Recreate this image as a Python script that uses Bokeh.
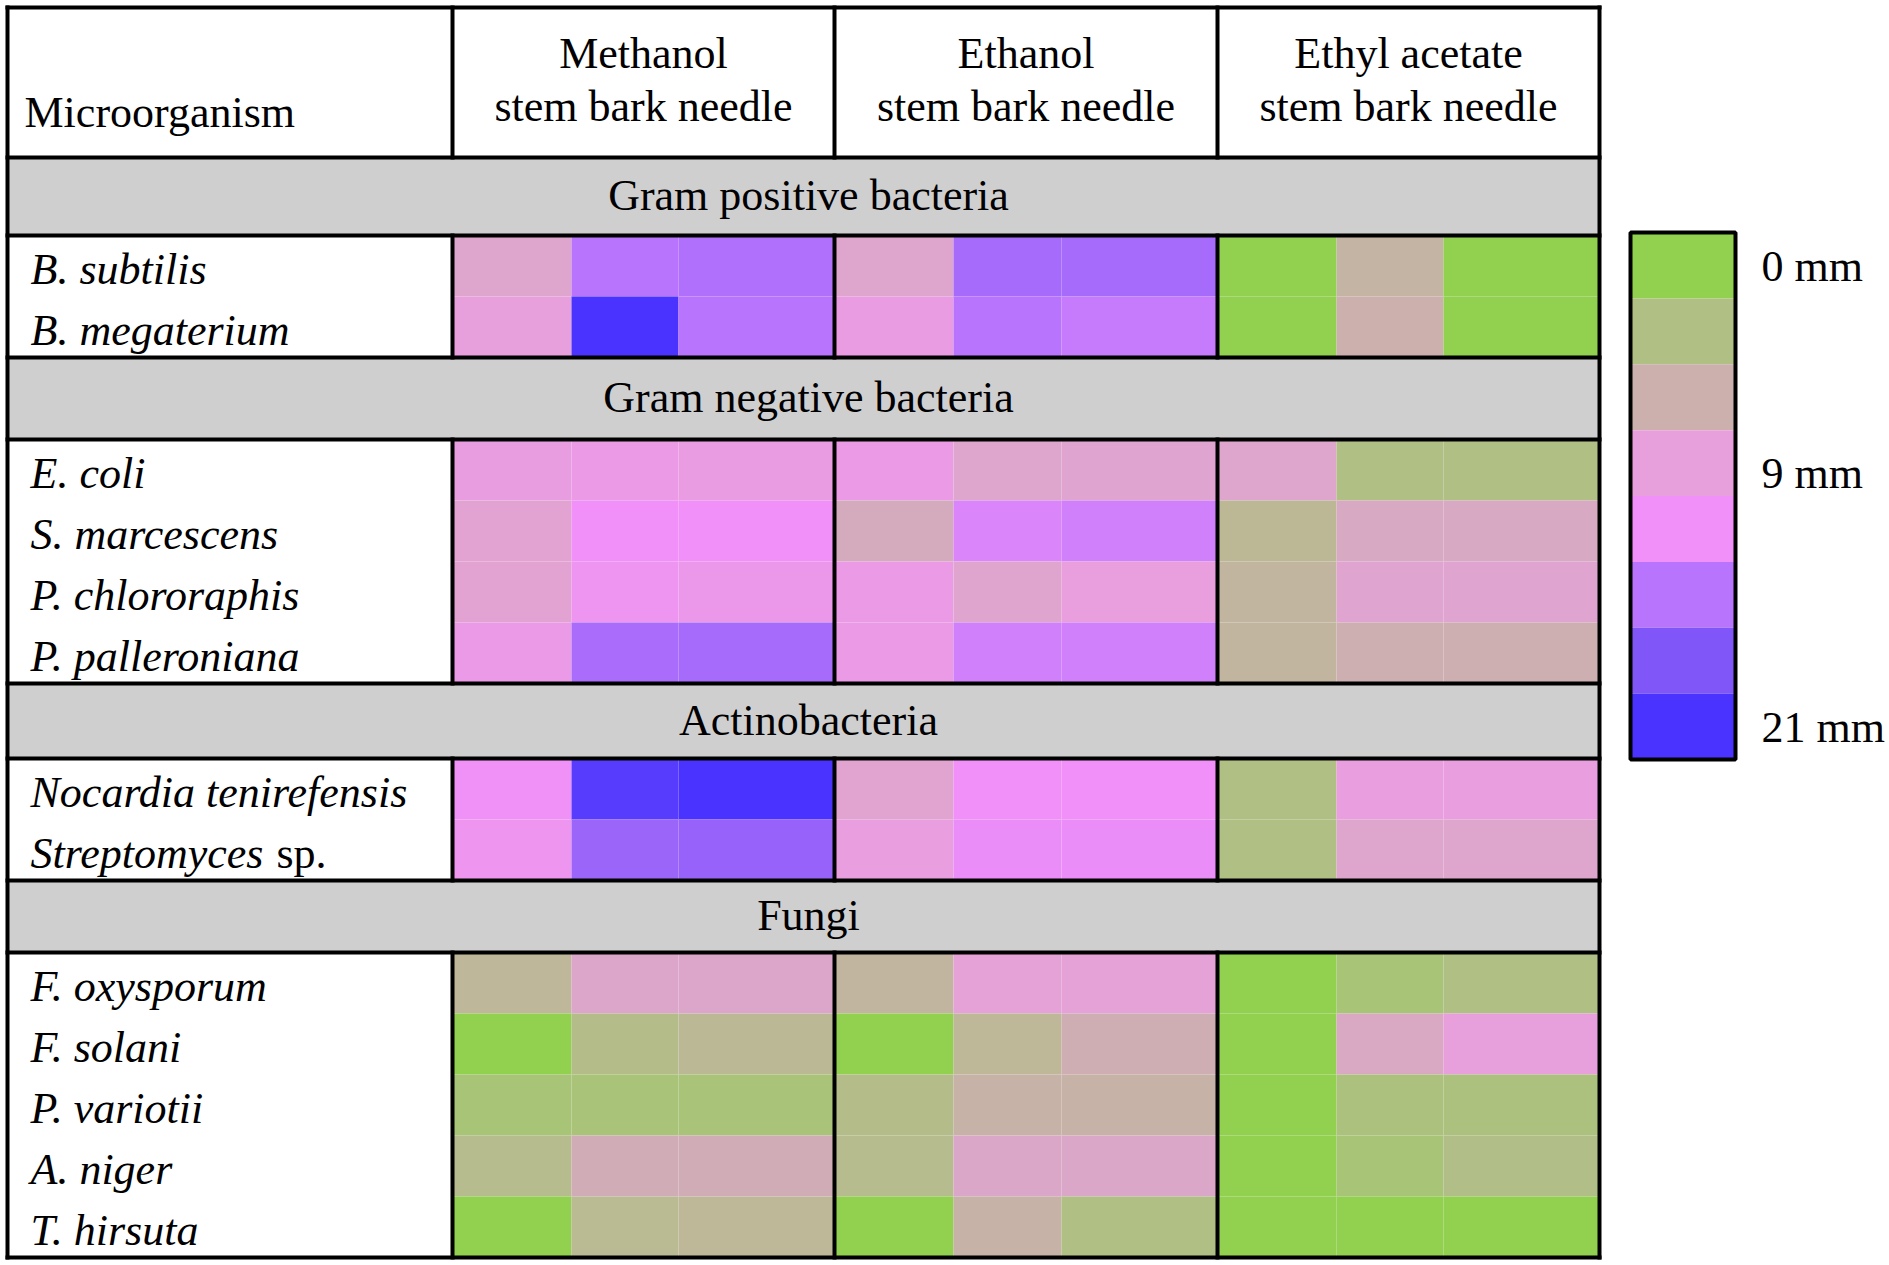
import numpy as np
from bokeh.plotting import figure
from bokeh.models import ColumnDataSource, LinearColorMapper, Range1d
from bokeh.transform import transform
from bokeh.core.properties import value
from bokeh.embed import file_html
from bokeh.resources import INLINE

# ---------------- data ----------------
groups = ["Gram positive bacteria", "Gram negative bacteria", "Actinobacteria", "Fungi"]
group_sizes = [2, 4, 2, 5]
organisms = ["B. subtilis", "B. megaterium",
             "E. coli", "S. marcescens", "P. chlororaphis", "P. palleroniana",
             "Nocardia tenirefensis", "Streptomyces",
             "F. oxysporum", "F. solani", "P. variotii", "A. niger", "T. hirsuta"]
organism_suffix = ["", "", "", "", "", "", "", "sp.", "", "", "", "", ""]
solvents = ["Methanol", "Ethanol", "Ethyl acetate"]
parts_label = "stem bark needle"

# inhibition zone (mm), one value per organism (same order as above)
methanol_stem   = [8.0, 9.0, 9.5, 8.4, 8.4, 10.2, 11.8, 11.0, 4.6, 0.0, 2.2, 3.7, 0.0]
methanol_bark   = [15.0, 21.0, 10.0, 12.0, 11.2, 15.8, 20.2, 16.5, 7.8, 3.4, 2.3, 6.5, 4.1]
methanol_needle = [15.4, 15.0, 9.8, 12.0, 10.5, 15.9, 21.0, 16.8, 7.8, 4.2, 2.3, 6.5, 4.5]
ethanol_stem    = [8.0, 9.8, 10.0, 6.9, 10.0, 10.0, 8.3, 9.3, 5.0, 0.0, 3.4, 3.7, 0.0]
ethanol_bark    = [15.9, 15.0, 8.0, 13.2, 8.1, 13.7, 12.0, 12.3, 8.6, 4.5, 5.6, 7.7, 5.5]
ethanol_needle  = [15.9, 14.3, 8.2, 13.7, 9.2, 13.7, 12.0, 12.3, 8.6, 6.3, 5.6, 7.7, 3.0]
ethyl_stem      = [0.0, 0.0, 8.0, 4.3, 5.0, 5.0, 3.0, 3.0, 0.0, 0.0, 0.0, 0.0, 0.0]
ethyl_bark      = [5.2, 6.0, 3.0, 7.3, 8.2, 6.2, 9.3, 8.0, 2.2, 7.4, 2.6, 2.2, 0.0]
ethyl_needle    = [0.0, 0.0, 3.0, 7.3, 8.2, 6.2, 9.3, 8.0, 3.0, 9.0, 2.6, 3.2, 0.0]
columns = [methanol_stem, methanol_bark, methanol_needle,
           ethanol_stem, ethanol_bark, ethanol_needle,
           ethyl_stem, ethyl_bark, ethyl_needle]

legend_steps = [0, 3, 6, 9, 12, 15, 18, 21]
legend_ticks = [0, 9, 21]
legend_tick_labels = ["0 mm", "9 mm", "21 mm"]

# ---------------- colour scale ----------------
anchor_vals = [0, 3, 6, 9, 12, 15, 18, 21]
anchor_cols = ["#92D050", "#B0BF84", "#CBB0AE", "#E8A0DC",
               "#F090F8", "#B874FC", "#8056F8", "#4A33FF"]

def hex2rgb(h):
    h = h.lstrip("#")
    return [int(h[i:i + 2], 16) for i in (0, 2, 4)]

rgb = np.array([hex2rgb(c) for c in anchor_cols], dtype=float)
grid = np.linspace(0, 21, 211)
palette = []
for g in grid:
    r = np.interp(g, anchor_vals, rgb[:, 0])
    gg = np.interp(g, anchor_vals, rgb[:, 1])
    b = np.interp(g, anchor_vals, rgb[:, 2])
    palette.append("#%02x%02x%02x" % (int(round(r)), int(round(gg)), int(round(b))))
mapper = LinearColorMapper(palette=palette, low=-0.05, high=21.05)

# ---------------- layout (pixels) ----------------
W, H = 1889, 1265
X0, X1 = 7, 1599
TOP = 7
HEADER_H = 150
BAND_H = [78, 82, 75, 72]
ROW_H = 61
col_edges = [452, 571, 678, 834, 953, 1061, 1217, 1336, 1443, 1599]
group_dividers = [452, 834, 1217]
FONT = value("Liberation Serif")
FS = "44px"
LINE_W = 4

p = figure(width=W, height=H, x_range=Range1d(0, W), y_range=Range1d(H, 0),
           output_backend="svg", toolbar_location=None, min_border=0)
p.axis.visible = False
p.grid.visible = False
p.outline_line_color = None
p.background_fill_color = "white"
p.border_fill_color = "white"

# compute row positions
y = TOP + HEADER_H
band_spans = []
row_tops = []
block_spans = []
for gi, n in enumerate(group_sizes):
    band_spans.append((y, y + BAND_H[gi]))
    y += BAND_H[gi]
    start = y
    for _ in range(n):
        row_tops.append(y)
        y += ROW_H
    block_spans.append((start, y))
BOTTOM = y

# cells
cl, cr, ct, cb, cv = [], [], [], [], []
for j, col in enumerate(columns):
    for i, v in enumerate(col):
        cl.append(col_edges[j]); cr.append(col_edges[j + 1])
        ct.append(row_tops[i]); cb.append(row_tops[i] + ROW_H)
        cv.append(v)
cells = ColumnDataSource(dict(left=cl, right=cr, top=ct, bottom=cb, v=cv))
p.quad(left="left", right="right", top="top", bottom="bottom", source=cells,
       fill_color=transform("v", mapper), line_color=None)

# grey bands
p.quad(left=[X0] * 4, right=[X1] * 4, top=[b[0] for b in band_spans],
       bottom=[b[1] for b in band_spans], fill_color="#D0CFD0", line_color=None)

# legend colour bar
CB_L, CB_R, CB_T, CB_B = 1630, 1735, 232, 759
seg_h = (CB_B - CB_T) / len(legend_steps)
lsrc = ColumnDataSource(dict(
    left=[CB_L] * len(legend_steps), right=[CB_R] * len(legend_steps),
    top=[CB_T + i * seg_h for i in range(len(legend_steps))],
    bottom=[CB_T + (i + 1) * seg_h for i in range(len(legend_steps))],
    v=legend_steps))
p.quad(left="left", right="right", top="top", bottom="bottom", source=lsrc,
       fill_color=transform("v", mapper), line_color=None)
p.quad(left=[CB_L], right=[CB_R], top=[CB_T], bottom=[CB_B], fill_color=None,
       line_color="black", line_width=LINE_W)
tick_pos = [0.5, 3.64, 7.5]
p.text(x=[1761] * 3, y=[CB_T + t * seg_h + 1 for t in tick_pos], text=legend_tick_labels,
       text_font=FONT, text_font_size=FS, text_align="left", text_baseline="middle",
       text_color="black")

# lines
sx0, sy0, sx1, sy1 = [], [], [], []
for yy in [TOP] + [b for s in band_spans for b in s] + [BOTTOM]:
    sx0.append(X0); sx1.append(X1); sy0.append(yy); sy1.append(yy)
for xx in [X0, X1]:
    sx0.append(xx); sx1.append(xx); sy0.append(TOP); sy1.append(BOTTOM)
for xx in group_dividers:
    for (a, b) in [(TOP, TOP + HEADER_H)] + block_spans:
        sx0.append(xx); sx1.append(xx); sy0.append(a); sy1.append(b)
p.segment(x0=sx0, y0=sy0, x1=sx1, y1=sy1, line_color="black", line_width=LINE_W,
          line_cap="square")

# header texts
centers = [(col_edges[0] + col_edges[3]) / 2, (col_edges[3] + col_edges[6]) / 2,
           (col_edges[6] + col_edges[9]) / 2]
p.text(x=centers, y=[53] * 3, text=solvents, text_font=FONT, text_font_size=FS,
       text_align="center", text_baseline="middle", text_color="black")
p.text(x=centers, y=[106] * 3, text=[parts_label] * 3, text_font=FONT, text_font_size=FS,
       text_align="center", text_baseline="middle", text_color="black")
p.text(x=[24], y=[112], text=["Microorganism"], text_font=FONT, text_font_size=FS,
       text_align="left", text_baseline="middle", text_color="black")

# band titles
BAND_CX = 808
p.text(x=[BAND_CX] * 4, y=[(a + b) / 2 - 1 for a, b in band_spans], text=groups,
       text_font=FONT, text_font_size=FS, text_align="center", text_baseline="middle",
       text_color="black")

# organism labels
p.text(x=[30] * len(organisms), y=[t + ROW_H / 2 + 3 for t in row_tops], text=organisms,
       text_font=FONT, text_font_size=FS, text_font_style="italic",
       text_align="left", text_baseline="middle", text_color="black")
sfx_idx = [i for i, s in enumerate(organism_suffix) if s]
p.text(x=[276] * len(sfx_idx), y=[row_tops[i] + ROW_H / 2 + 3 for i in sfx_idx],
       text=[organism_suffix[i] for i in sfx_idx],
       text_font=FONT, text_font_size=FS, text_align="left", text_baseline="middle",
       text_color="black")

open("out.html", "w").write(file_html(p, INLINE))
